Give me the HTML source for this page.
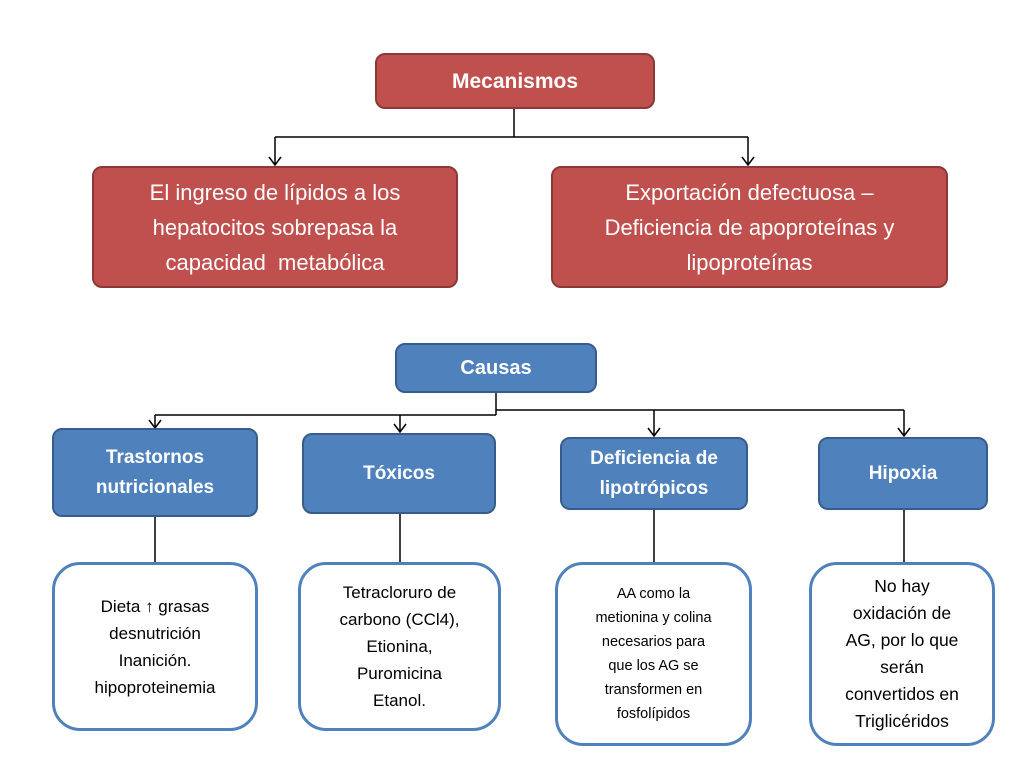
<!DOCTYPE html>
<html><head><meta charset="utf-8"><style>
body{margin:0;width:1024px;height:768px;background:#fff;position:relative;overflow:hidden;font-family:"Liberation Sans",sans-serif}
.b{position:absolute;box-sizing:border-box;display:flex;align-items:center;justify-content:center;text-align:center}
.r{background:#c0504d;border:2px solid #8c3836;border-radius:10px;color:#fff;font-size:22px;line-height:35px}
.u{background:#4f81bd;border:2px solid #385d8a;border-radius:10px;color:#fff;font-weight:bold;font-size:19px;line-height:30px}
.w{background:#fff;border:3px solid #4f81bd;border-radius:28px;color:#000;font-size:17px;line-height:27px}
svg{position:absolute;left:0;top:0}
</style></head><body>
<svg width="1024" height="768" stroke="#000" stroke-width="1.5" fill="none">
<path d="M514 109V137M275 137H748M275 137V165M748 137V165"/>
<path d="M269 157L275 165L281 157M742 157L748 165L754 157"/>
<path d="M496 392V415M155 415H496M496 410H904M155 415V428M400 415V432M654 410V436M904 410V436"/>
<path d="M149 420L155 428L161 420M394 424L400 432L406 424M648 428L654 436L660 428M898 428L904 436L910 428"/>
<path d="M155 517V562M400 514V562M654 510V562M904 510V562"/>
</svg>
<div class="b r" style="left:375px;top:53px;width:280px;height:56px;font-weight:bold;font-size:21px">Mecanismos</div>
<div class="b r" style="left:92px;top:166px;width:366px;height:122px">El ingreso de lípidos a los<br>hepatocitos sobrepasa la<br>capacidad&nbsp; metabólica</div>
<div class="b r" style="left:551px;top:166px;width:397px;height:122px">Exportación defectuosa –<br>Deficiencia de apoproteínas y<br>lipoproteínas</div>
<div class="b u" style="left:395px;top:343px;width:202px;height:50px;font-size:20px">Causas</div>
<div class="b u" style="left:52px;top:428px;width:206px;height:89px">Trastornos<br>nutricionales</div>
<div class="b u" style="left:302px;top:433px;width:194px;height:81px">Tóxicos</div>
<div class="b u" style="left:560px;top:437px;width:188px;height:73px">Deficiencia de<br>lipotrópicos</div>
<div class="b u" style="left:818px;top:437px;width:170px;height:73px">Hipoxia</div>
<div class="b w" style="left:52px;top:562px;width:206px;height:169px">Dieta ↑ grasas<br>desnutrición<br>Inanición.<br>hipoproteinemia</div>
<div class="b w" style="left:298px;top:562px;width:203px;height:169px">Tetracloruro de<br>carbono (CCl4),<br>Etionina,<br>Puromicina<br>Etanol.</div>
<div class="b w" style="left:555px;top:562px;width:197px;height:184px;font-size:14.5px;line-height:24px">AA como la<br>metionina y colina<br>necesarios para<br>que los AG se<br>transformen en<br>fosfolípidos</div>
<div class="b w" style="left:809px;top:562px;width:186px;height:184px;font-size:17.5px">No hay<br>oxidación de<br>AG, por lo que<br>serán<br>convertidos en<br>Triglicéridos</div>
</body></html>
